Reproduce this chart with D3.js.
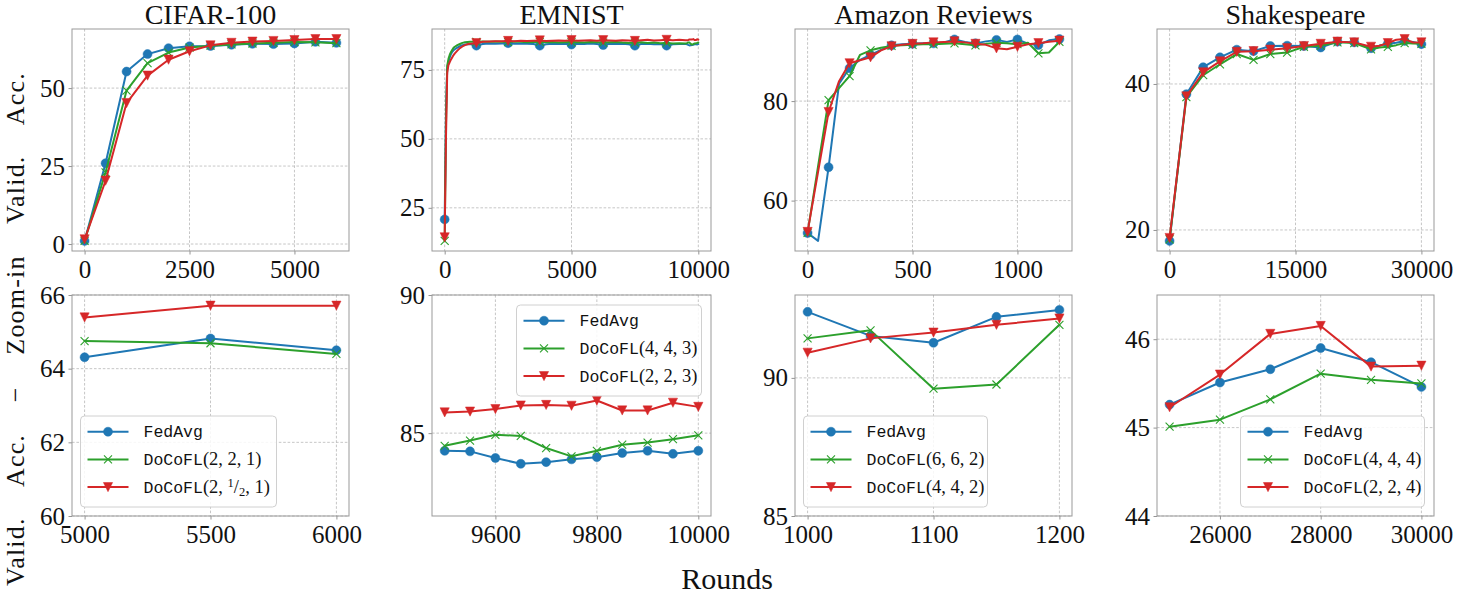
<!DOCTYPE html>
<html><head><meta charset="utf-8">
<script src="https://cdn.jsdelivr.net/npm/d3@7"></script>
<style>
body{margin:0;background:#fff}
svg{display:block;font-family:'Liberation Serif'}
svg text, svg tspan{font-family:'Liberation Serif'}
svg .mono{font-family:'Liberation Mono' !important}
</style>
</head><body>
<svg id="c" width="1457" height="596" font-family="Liberation Serif"></svg>
<script>
// ---------------- DATA ----------------
const methodNames = ['FedAvg', 'DoCoFL', 'DoCoFL'];

const cifarRounds = [0,500,1000,1500,2000,2500,3000,3500,4000,4500,5000,5500,6000];
const cifarFedAvg = [1.0,25.9,55.3,60.9,62.8,63.4,63.5,63.9,64.2,64.1,64.31,64.82,64.5];
const cifarDoCoFL221 = [1.0,23.0,49.2,58.0,61.4,63.0,63.6,64.0,64.3,64.5,64.75,64.69,64.4];
const cifarDoCoFL2h1 = [1.5,20.3,45.2,54.0,59.1,61.8,63.7,64.5,64.9,65.1,65.39,65.71,65.71];
const cifarParams = ['', '(2, 2, 1)', '(2, ½, 1)'];

const emnistRounds = [0,50,100,150,200,250,300,350,400,500,600,700,800,900,1000,
  1250,1500,1750,2000,2250,2500,2750,3000,3250,3500,3750,4000,4250,4500,4750,5000,5250,5500,5750,6000,
  6250,6500,6750,7000,7250,7500,7750,8000,8250,8500,8750,9000,9250,
  9500,9550,9600,9650,9700,9750,9800,9850,9900,9950,10000];
const emnistFedAvg = [20.8,60.0,75.5,78.0,79.5,80.8,81.6,82.1,82.5,83.1,83.6,84.0,84.2,84.3,84.4,
  83.8,84.4,84.6,84.5,84.6,84.7,84.5,84.6,84.5,84.4,83.8,84.3,84.5,84.4,84.5,84.2,84.5,84.4,84.6,84.4,
  84.0,84.5,84.4,84.5,84.3,83.8,84.4,84.5,84.3,84.4,83.8,84.3,84.4,
  84.36,84.34,84.1,83.89,83.95,84.05,84.13,84.28,84.36,84.25,84.36];
const emnistDoCoFL443 = [13.0,55.0,76.5,79.0,80.5,81.5,82.3,83.0,83.4,84.0,84.4,84.8,85.0,85.1,85.2,
  85.2,85.3,85.2,85.3,85.2,85.1,85.3,85.2,85.0,85.1,85.2,85.0,85.1,84.9,85.0,85.1,85.0,84.9,85.1,85.0,
  84.9,85.0,85.1,84.9,84.8,84.9,85.0,84.8,84.9,84.7,84.8,84.6,84.7,
  84.54,84.73,84.94,84.9,84.46,84.16,84.36,84.58,84.66,84.78,84.92];
const emnistDoCoFL223 = [14.3,50.0,74.0,76.8,77.8,78.8,79.6,80.4,81.0,82.0,82.9,83.5,84.0,84.3,84.5,
  84.7,85.2,85.3,85.4,85.4,85.5,85.4,85.6,85.5,85.6,85.7,85.5,85.6,85.7,85.6,85.8,85.6,85.7,85.8,85.6,
  85.8,85.7,85.6,85.8,85.7,85.5,85.8,85.9,85.7,85.8,85.9,85.8,85.9,
  85.75,85.78,85.87,86.0,86.02,85.99,86.18,85.82,85.82,86.1,85.95];
const emnistMarkRounds = [0,1250,2500,3750,5000,6250,7500,8750];
const emnistParams = ['', '(4, 4, 3)', '(2, 2, 3)'];

const amazonRounds = [0,50,100,150,200,250,300,350,400,450,500,550,600,650,700,750,800,850,900,950,1000,1050,1100,1150,1200];
const amazonFedAvg = [53.5,51.9,66.7,83.5,86.6,88.3,89.3,90.3,91.2,91.4,91.5,91.6,91.6,91.8,92.4,91.9,91.6,92.0,92.3,91.9,92.39,91.52,91.27,92.21,92.46];
const amazonDoCoFL662 = [53.5,66.9,80.2,82.6,85.0,89.3,90.2,90.7,91.1,91.2,91.3,91.4,91.4,91.5,91.6,91.4,91.2,91.5,91.7,91.6,91.43,91.72,89.61,89.76,91.92];
const amazonDoCoFL442 = [53.7,65.8,77.8,84.0,87.6,88.2,88.8,90.2,91.0,91.3,91.5,91.6,91.8,91.9,92.0,91.8,91.5,91.3,90.6,90.4,90.91,91.43,91.64,91.92,92.15];
const amazonParams = ['', '(6, 6, 2)', '(4, 4, 2)'];

const shakesRounds = [0,2000,4000,6000,8000,10000,12000,14000,16000,18000,20000,22000,24000,25000,26000,27000,28000,29000,30000];
const shakesFedAvg = [18.5,38.6,42.3,43.65,44.7,44.5,45.2,45.25,45.2,45.0,45.8,45.7,44.9,45.26,45.51,45.66,45.9,45.74,45.46];
const shakesDoCoFL444 = [18.7,38.2,41.2,42.7,44.1,43.3,44.1,44.3,45.1,45.25,45.7,45.6,44.75,45.01,45.09,45.32,45.61,45.54,45.5];
const shakesDoCoFL224 = [18.9,38.3,41.6,43.1,44.4,44.5,44.7,44.9,45.2,45.5,45.8,45.7,45.1,45.23,45.6,46.06,46.15,45.69,45.7];
const shakesParams = ['', '(4, 4, 4)', '(2, 2, 4)'];

const titles = ['CIFAR-100', 'EMNIST', 'Amazon Reviews', 'Shakespeare'];
const topXTicks = [[0,2500,5000],[0,5000,10000],[0,500,1000],[0,15000,30000]];
const topYTicks = [[0,25,50],[25,50,75],[60,80],[20,40]];
const zoomXRange = [[5000,6000],[9500,10000],[1000,1200],[25000,30000]];
const zoomYRange = [[60,66],[82,90],[85,93],[44,46.5]];
const botXTicks = [[5000,5500,6000],[9600,9800,10000],[1000,1100,1200],[26000,28000,30000]];
const botYTicks = [[60,62,64,66],[85,90],[85,90],[44,45,46]];
const legendLocs = ['lower left','upper right','lower left','lower right'];
const yLabel = 'Valid. Acc. − Zoom-in Valid. Acc.';
const xLabel = 'Rounds';

// ---------------- LAYOUT / STYLE ----------------
const SERIF = 'Liberation Serif';
const MONO = 'Liberation Mono';
const colors = ['#1f77b4', '#2ca02c', '#d62728'];
const markerTypes = ['circle', 'x', 'tri'];
const colsX = [[72,349],[432,711],[795,1072],[1157,1434]];
const topY = [29,251], botY = [295,516];
const legendW = [196, 185, 184, 184];

const svg = d3.select('#c');

function font(sel, fam, size) {
  return sel.attr('font-family', fam).style('font-family', `'${fam}'`).attr('font-size', size).style('font-size', size + 'px');
}

const datasets = [
  {rounds: cifarRounds, series: [cifarFedAvg, cifarDoCoFL221, cifarDoCoFL2h1], params: cifarParams, mark: r => true},
  {rounds: emnistRounds, series: [emnistFedAvg, emnistDoCoFL443, emnistDoCoFL223], params: emnistParams, mark: r => emnistMarkRounds.includes(r)},
  {rounds: amazonRounds, series: [amazonFedAvg, amazonDoCoFL662, amazonDoCoFL442], params: amazonParams, mark: r => r % 100 === 0},
  {rounds: shakesRounds, series: [shakesFedAvg, shakesDoCoFL444, shakesDoCoFL224], params: shakesParams, mark: r => r % 2000 === 0},
];

function pad(ext) { const d = ext[1] - ext[0]; return [ext[0] - 0.05 * d, ext[1] + 0.05 * d]; }

function drawMarker(g, type, cx, cy, color) {
  if (type === 'circle') {
    g.append('circle').attr('cx', cx).attr('cy', cy).attr('r', 4.5).attr('fill', color).attr('stroke', color).attr('stroke-width', 0.5);
  } else if (type === 'x') {
    const s = 4;
    g.append('path').attr('d', `M${cx-s},${cy-s}L${cx+s},${cy+s}M${cx-s},${cy+s}L${cx+s},${cy-s}`)
      .attr('stroke', color).attr('stroke-width', 1.1).attr('fill', 'none');
  } else {
    const s = 4.6;
    g.append('path').attr('d', `M${cx-s},${cy-s}L${cx+s},${cy-s}L${cx},${cy+s}Z`).attr('fill', color).attr('stroke', color).attr('stroke-width', 0.5);
  }
}

function drawPanel(xr, yr, xDom, yDom, xTicks, yTicks, ds, inRange, markFn) {
  const x = d3.scaleLinear().domain(xDom).range(xr);
  const y = d3.scaleLinear().domain(yDom).range([yr[1], yr[0]]);
  const g = svg.append('g');
  g.append('g').selectAll('line').data(xTicks).join('line')
    .attr('x1', d => x(d)).attr('x2', d => x(d)).attr('y1', yr[0]).attr('y2', yr[1])
    .attr('stroke', '#b8b8b8').attr('stroke-width', 0.8).attr('stroke-dasharray', '2.6,1.8');
  g.append('g').selectAll('line').data(yTicks).join('line')
    .attr('y1', d => y(d)).attr('y2', d => y(d)).attr('x1', xr[0]).attr('x2', xr[1])
    .attr('stroke', '#b8b8b8').attr('stroke-width', 0.8).attr('stroke-dasharray', '2.6,1.8');
  const ax = g.append('g').attr('transform', `translate(0,${yr[1]})`)
    .call(d3.axisBottom(x).tickValues(xTicks).tickSize(3.5).tickPadding(6).tickFormat(d3.format('d')));
  const ay = g.append('g').attr('transform', `translate(${xr[0]},0)`)
    .call(d3.axisLeft(y).tickValues(yTicks).tickSize(3.5).tickPadding(3.5).tickFormat(d3.format('d')));
  [ax, ay].forEach(a => {
    font(a, SERIF, 25);
    a.select('.domain').remove();
    a.selectAll('.tick line').attr('stroke', '#888').attr('stroke-width', 0.9);
    font(a.selectAll('.tick text'), SERIF, 25).attr('fill', '#111');
  });
  g.append('rect').attr('x', xr[0]).attr('y', yr[0]).attr('width', xr[1] - xr[0]).attr('height', yr[1] - yr[0])
    .attr('fill', 'none').attr('stroke', '#999').attr('stroke-width', 1);
  const line = d3.line().x(d => x(d[0])).y(d => y(d[1]));
  ds.series.forEach((vals, i) => {
    const pts = ds.rounds.map((r, j) => [r, vals[j]]).filter(p => inRange(p[0]));
    const sg = g.append('g');
    sg.append('path').attr('d', line(pts)).attr('fill', 'none').attr('stroke', colors[i])
      .attr('stroke-width', 2).attr('stroke-linejoin', 'round').attr('stroke-linecap', 'round');
    pts.filter(p => markFn(p[0])).forEach(p => drawMarker(sg, markerTypes[i], x(p[0]), y(p[1]), colors[i]));
  });
}

function writeLabel(text, name, param) {
  font(text.append('tspan'), MONO, 16.5).attr('class', 'mono').text(name);
  if (!param) return;
  if (param.includes('½')) {
    const [a, b] = param.split('½');
    font(text.append('tspan'), SERIF, 18.5).text(a);
    font(text.append('tspan'), SERIF, 12.5).attr('dy', -6).text('1');
    font(text.append('tspan'), SERIF, 18.5).attr('dy', 6).text('/');
    font(text.append('tspan'), SERIF, 12.5).attr('dy', 3).text('2');
    font(text.append('tspan'), SERIF, 18.5).attr('dy', -3).text(b);
  } else {
    font(text.append('tspan'), SERIF, 18.5).text(param);
  }
}

function drawLegend(xr, yr, loc, params, w) {
  const g = svg.append('g');
  const rows = [15.7, 43.4, 71.1], h = 91;
  g.append('rect').attr('x', 0).attr('y', 0).attr('width', w).attr('height', h).attr('rx', 4)
    .attr('fill', '#fff').attr('fill-opacity', 0.85).attr('stroke', '#d0d0d0').attr('stroke-width', 1);
  methodNames.forEach((name, i) => {
    const cy = rows[i];
    g.append('line').attr('x1', 7).attr('x2', 48).attr('y1', cy).attr('y2', cy)
      .attr('stroke', colors[i]).attr('stroke-width', 2);
    drawMarker(g, markerTypes[i], 27.5, cy, colors[i]);
    const t = g.append('text').attr('x', 63).attr('y', cy + 5.5).attr('fill', '#111');
    writeLabel(t, name, params[i]);
  });
  let gx, gy;
  if (loc === 'lower left') { gx = xr[0] + 8.5; gy = yr[1] - 9 - h; }
  else if (loc === 'upper right') { gx = xr[1] - 9.5 - w; gy = yr[0] + 10; }
  else { gx = xr[1] - 9.5 - w; gy = yr[1] - 9 - h; }
  g.attr('transform', `translate(${gx},${gy})`);
}

datasets.forEach((ds, k) => {
  const xr = colsX[k];
  const allVals = ds.series.flat();
  drawPanel(xr, topY, pad(d3.extent(ds.rounds)), pad(d3.extent(allVals)), topXTicks[k], topYTicks[k], ds, r => true, ds.mark);
  font(svg.append('text'), SERIF, 28).attr('x', (xr[0] + xr[1]) / 2).attr('y', 24).attr('text-anchor', 'middle')
    .attr('fill', '#111').text(titles[k]);
  const zr = zoomXRange[k];
  drawPanel(xr, botY, pad(zr), zoomYRange[k], botXTicks[k], botYTicks[k], ds, r => r >= zr[0] && r <= zr[1], r => true);
  drawLegend(xr, botY, legendLocs[k], ds.params, legendW[k]);
});

font(svg.append('text'), SERIF, 30).attr('x', 727).attr('y', 589).attr('text-anchor', 'middle')
  .attr('fill', '#111').text(xLabel);
font(svg.append('text'), SERIF, 26).attr('transform', 'translate(24,329) rotate(-90)').attr('text-anchor', 'middle')
  .attr('letter-spacing', 1.2).attr('word-spacing', 24)
  .attr('fill', '#111').text(yLabel);
</script>
</body></html>
